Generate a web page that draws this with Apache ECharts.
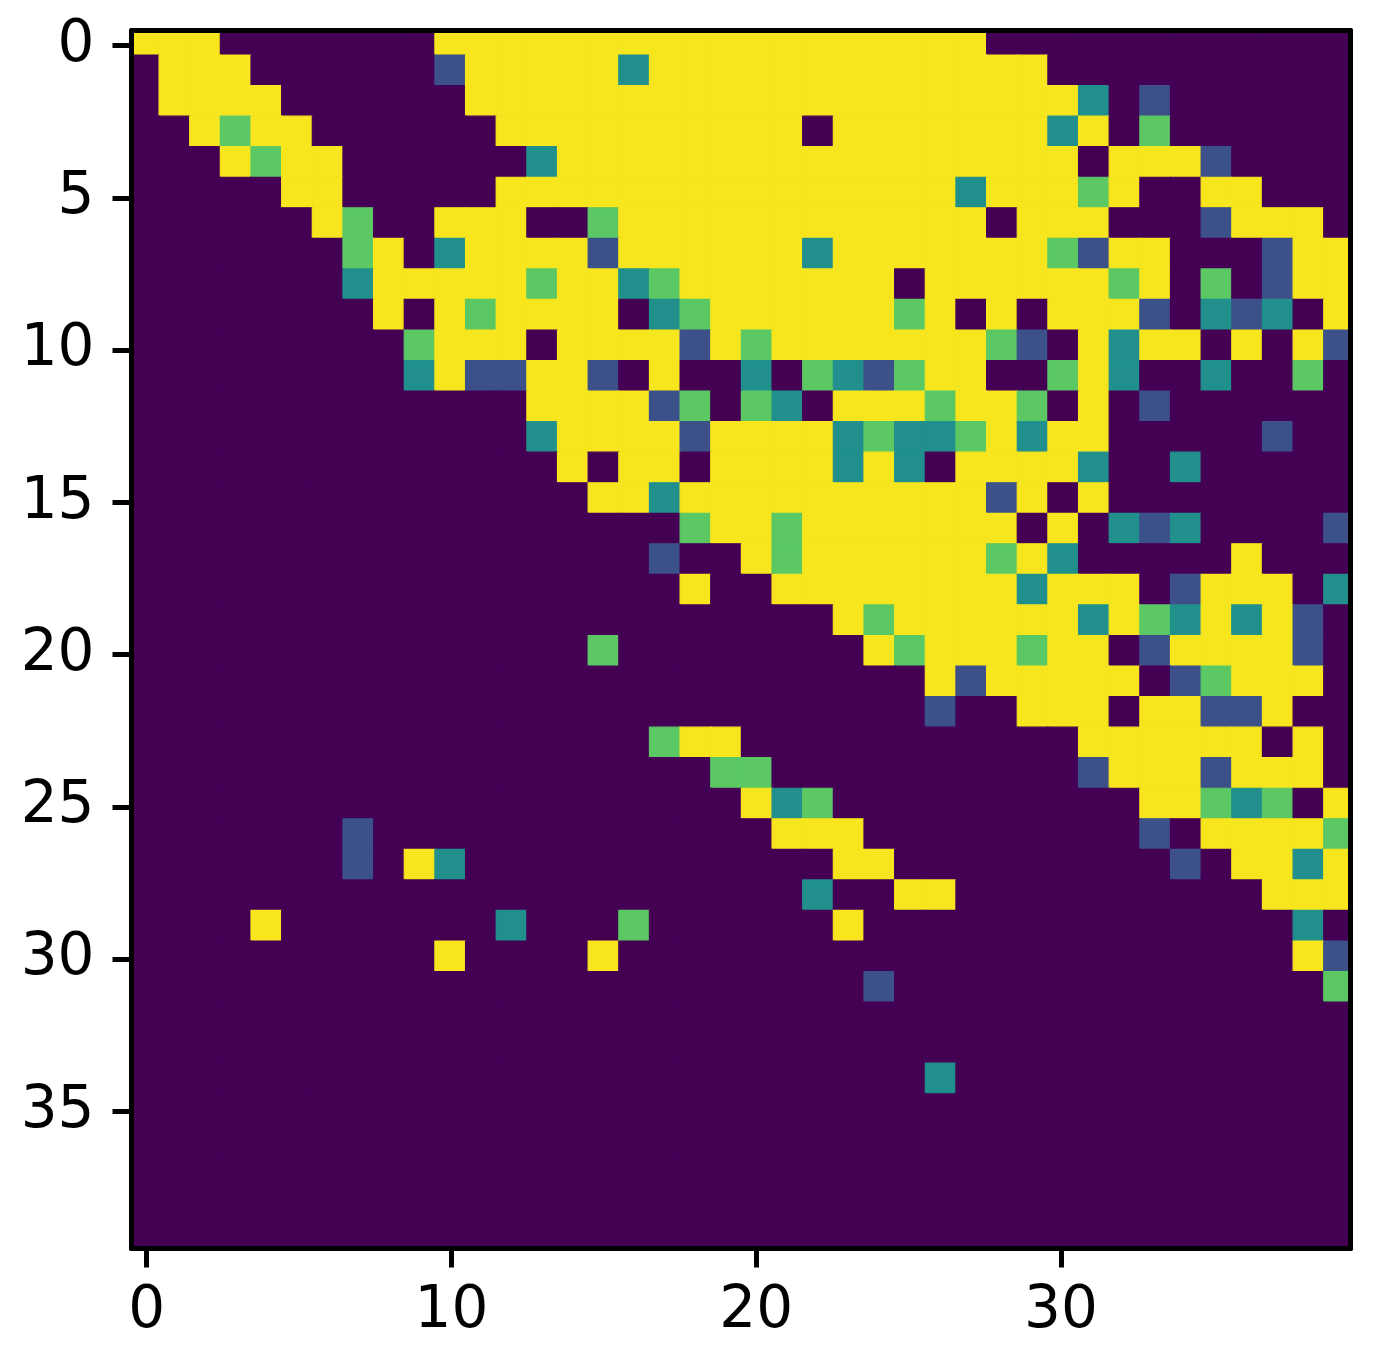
<!DOCTYPE html>
<html>
<head>
<meta charset="utf-8">
<style>
  html, body { margin: 0; padding: 0; background: #fff; }
  #main { width: 1386px; height: 1353px; }
</style>
<script src="https://cdn.jsdelivr.net/npm/echarts@6/dist/echarts.min.js"></script>
</head>
<body>
<div id="main"></div>
<script>
// levels per cell, top row first, left to right (blocks of ten columns)
const rowLevels = [
  '4440000000' + '4444444444' + '4444444400' + '0000000000',
  '0444000000' + '1444442444' + '4444444444' + '0000000000',
  '0444400000' + '0444444444' + '4444444444' + '4201000000',
  '0043440000' + '0044444444' + '4404444444' + '2403000000',
  '0004344000' + '0002444444' + '4444444444' + '4044410000',
  '0000044000' + '0044444444' + '4444444244' + '4340044000',
  '0000004300' + '4440034444' + '4444444404' + '4400014440',
  '0000000340' + '2444414444' + '4424444444' + '3144000144',
  '0000000244' + '4443442344' + '4444404444' + '4434030144',
  '0000000040' + '4344440234' + '4444434040' + '4441021204',
  '0000000003' + '4440444414' + '3444444431' + '0424404041',
  '0000000002' + '4114410400' + '2032134400' + '3420020030',
  '0000000000' + '0004444130' + '3204443443' + '0401000000',
  '0000000000' + '0002444414' + '4442322342' + '4400000100',
  '0000000000' + '0000404404' + '4442420444' + '4200200000',
  '0000000000' + '0000044244' + '4444444414' + '0400000000',
  '0000000000' + '0000000034' + '4344444440' + '4021200001',
  '0000000000' + '0000000100' + '4344444434' + '2000004000',
  '0000000000' + '0000000040' + '0444444442' + '4440144402',
  '0000000000' + '0000000000' + '0004344444' + '4243242410',
  '0000000000' + '0000030000' + '0000434443' + '4401444410',
  '0000000000' + '0000000000' + '0000004144' + '4440134440',
  '0000000000' + '0000000000' + '0000001004' + '4404411400',
  '0000000000' + '0000000344' + '0000000000' + '0444444040',
  '0000000000' + '0000000003' + '3000000000' + '0144414440',
  '0000000000' + '0000000000' + '4230000000' + '0004432304',
  '0000000100' + '0000000000' + '0444000000' + '0001044443',
  '0000000104' + '2000000000' + '0004400000' + '0000104424',
  '0000000000' + '0000000000' + '0020044000' + '0000000444',
  '0000400000' + '0020003000' + '0004000000' + '0000000020',
  '0000000000' + '4000040000' + '0000000000' + '0000000041',
  '0000000000' + '0000000000' + '0000100000' + '0000000003',
  '0000000000' + '0000000000' + '0000000000' + '0000000000',
  '0000000000' + '0000000000' + '0000000000' + '0000000000',
  '0000000000' + '0000000000' + '0000002000' + '0000000000',
  '0000000000' + '0000000000' + '0000000000' + '0000000000',
  '0000000000' + '0000000000' + '0000000000' + '0000000000',
  '0000000000' + '0000000000' + '0000000000' + '0000000000',
  '0000000000' + '0000000000' + '0000000000' + '0000000000',
  '0000000000' + '0000000000' + '0000000000' + '0000000000'
];
const levelColors = ['#440154', '#3c5189', '#21908d', '#5bc864', '#f7e61e'];
const xTickEvery = 10;
const yTickEvery = 5;

const categories = rowLevels.map((_, i) => String(i));
const cells = [];
rowLevels.forEach((row, y) => {
  row.split('').forEach((v, x) => cells.push([x, y, Number(v)]));
});

const myChart = echarts.init(document.getElementById('main'), null, { renderer: 'canvas' });

const axisFont = { fontFamily: 'DejaVu Sans', fontSize: 58, color: '#000' };
const frameLine = { show: true, onZero: false, lineStyle: { color: '#000', width: 5 } };
const tickLine = { color: '#000', width: 5 };

// tick axes, they carry the labels only
const tickAxis = (position, every, margin, inverse, padding) => {
  const show = (i) => i % every === 0;
  return {
    type: 'category', data: categories, position, inverse, z: 5,
    axisLine: frameLine,
    axisTick: { show: true, alignWithLabel: true, interval: show, length: 19, lineStyle: tickLine },
    axisLabel: { show: true, interval: show, margin, padding, ...axisFont },
    splitLine: { show: false }
  };
};
// the image sits a little off the tick positions in the original, so the cells
// get their own axes, which also draw the top and right sides of the frame
const cellAxis = (position, min, max, inverse) => ({
  type: 'value', position, min, max, inverse, z: 5,
  axisLine: frameLine,
  axisTick: { show: false }, axisLabel: { show: false }, splitLine: { show: false }
});

const renderCell = (params, api) => {
  const x = api.value(0);
  const y = api.value(1);
  const a = api.coord([x - 0.5, y - 0.5]);
  const b = api.coord([x + 0.5, y + 0.5]);
  const color = levelColors[api.value(2)];
  return {
    type: 'rect',
    shape: { x: a[0], y: a[1], width: b[0] - a[0], height: b[1] - a[1] },
    style: { fill: color, stroke: color, lineWidth: 1.2 }
  };
};

myChart.setOption({
  animation: false,
  backgroundColor: '#fff',
  grid: { show: true, left: 131.5, top: 30.5, width: 1219, height: 1218, backgroundColor: levelColors[0], borderWidth: 0 },
  xAxis: [
    tickAxis('bottom', xTickEvery, 34, false, 0),
    cellAxis('top', -0.399, 39.373, false)
  ],
  yAxis: [
    tickAxis('left', yTickEvery, 37, true, [5, 0, 0, 0]),
    cellAxis('right', -0.304, 39.566, true)
  ],
  series: [
    {
      type: 'custom',
      xAxisIndex: 1,
      yAxisIndex: 1,
      clip: true,
      data: cells,
      encode: { x: 0, y: 1 },
      renderItem: renderCell,
      silent: true
    }
  ]
});
</script>
</body>
</html>
